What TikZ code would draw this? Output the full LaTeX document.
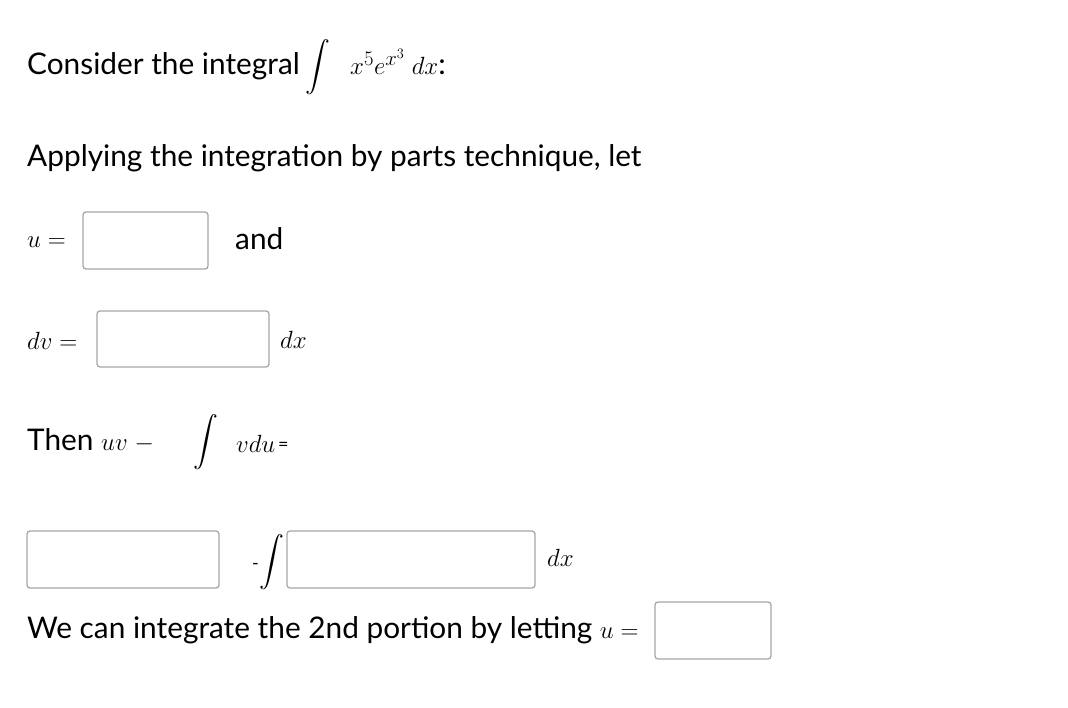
\documentclass[tikz,border=0pt]{standalone}
\usepackage{amsmath}
\usepackage{fontspec}
\setmainfont{Lato}
\begin{document}
\begin{tikzpicture}[x=1pt,y=-1pt,
  ans/.style={draw=gray!70,line width=1.3pt,rounded corners=3pt},
  txt/.style={anchor=west,inner sep=0pt,font=\fontsize{29.8}{32}\selectfont},
  intg/.style={inner sep=0pt,font=\fontsize{31}{34}\selectfont}]
\useasboundingbox (0,0) rectangle (1068,708);
\node[txt] (t1) at (27,66) {Consider the integral};
\node[intg] (i1) at (318,67) {$\displaystyle\int$};
\node[txt] (f1) at (350,62) {$x^5e^{x^3}\;dx$:};
\node[txt] (t2) at (27,158) {Applying the integration by parts technique, let};
\node[txt] (u) at (27,242) {$u=$};
\draw[ans] (83,212) rectangle (208,269);
\node[txt] (and) at (235,239) {and};
\node[txt] (dv) at (27,341) {$dv=$};
\draw[ans] (97,311) rectangle (269,367);
\node[txt] (dx1) at (280,340) {$dx$};
\node[txt] (then) at (27,441) {Then $uv\;-$};
\node[intg] (i2) at (206,442) {$\displaystyle\int$};
\node[txt] (vdu) at (236,444) {$vdu$};
\node[txt,font=\fontsize{18}{20}\selectfont] (eq) at (278,446) {=};
\draw[ans] (27,531) rectangle (219,588);
\node[txt,font=\fontsize{18}{20}\selectfont] (m) at (252,566) {-};
\node[intg] (i3) at (272,562) {$\displaystyle\int$};
\draw[ans] (287,531) rectangle (535,588);
\node[txt] (dx2) at (547,558) {$dx$};
\node[txt] (t3) at (27,630) {We can integrate the 2nd portion by letting $u=$};
\draw[ans] (655,602) rectangle (771,659);
\end{tikzpicture}
\end{document}
